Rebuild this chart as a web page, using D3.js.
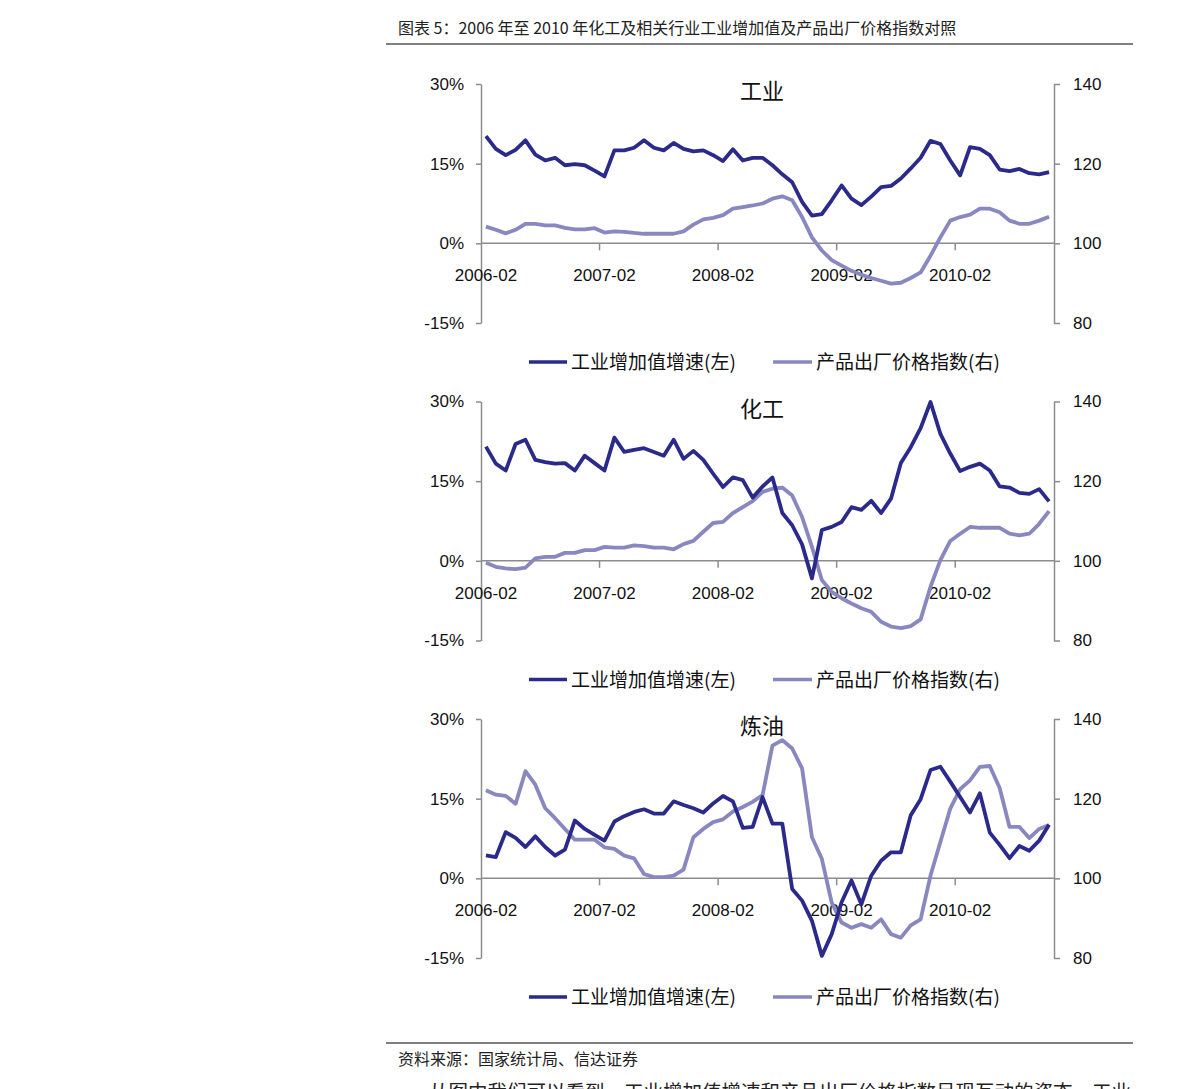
<!DOCTYPE html>
<html>
<head>
<meta charset="utf-8">
<script src="https://cdn.jsdelivr.net/npm/d3@7"></script>
<style>
  html, body { margin: 0; padding: 0; background: #fff; }
  svg { display: block; }
</style>
</head>
<body>
<svg id="chart" width="1191" height="1089"></svg>
<script>
// categories: monthly, 2006-02 .. 2010-11
const months = d3.timeMonth.range(new Date(2006, 1, 1), new Date(2010, 11, 1)).map(d3.timeFormat('%Y-%m'));
const tickMonths = ['2006-02', '2007-02', '2008-02', '2009-02', '2010-02'];
const leftTicks = [-15, 0, 15, 30];
const rightTicks = [80, 100, 120, 140];

const panelNames = ['工业', '化工', '炼油'];
const seriesNames = ['工业增加值增速(左)', '产品出厂价格指数(右)'];

// 工业
const gyGrowth = [20.2, 17.8, 16.6, 17.6, 19.4, 16.7, 15.6, 16.1, 14.7, 14.9, 14.7, 13.7, 12.6, 17.5, 17.5, 18.0,
  19.4, 18.0, 17.5, 18.9, 17.8, 17.3, 17.5, 16.6, 15.5, 17.7, 15.6, 16.1, 16.1, 14.7, 13.0, 11.5, 7.8, 5.2, 5.5, 8.1,
  10.9, 8.4, 7.2, 8.8, 10.6, 10.8, 12.2, 14.1, 16.1, 19.3, 18.7, 15.6, 12.8, 18.1, 17.8, 16.6, 13.9, 13.6, 14.0, 13.2, 13.0, 13.4];
const gyPrice = [104.2, 103.4, 102.5, 103.4, 104.9, 104.9, 104.5, 104.5, 103.9, 103.5, 103.5, 103.8, 102.7, 103.0, 102.9, 102.6,
  102.4, 102.4, 102.4, 102.4, 103.0, 104.7, 106.0, 106.4, 107.1, 108.7, 109.1, 109.5, 110.0, 111.2, 111.8, 110.8, 106.6, 101.5, 98.2, 95.8,
  94.4, 93.1, 92.1, 91.3, 90.6, 89.9, 90.1, 91.3, 92.7, 96.9, 101.5, 105.7, 106.6, 107.2, 108.7, 108.7, 107.8, 105.7, 104.9, 104.9, 105.7, 106.7];

// 化工
const hgGrowth = [21.5, 18.3, 17.0, 22.0, 22.8, 19.0, 18.6, 18.3, 18.4, 17.0, 19.8, 18.4, 17.0, 23.2, 20.5, 20.9,
  21.2, 20.5, 19.8, 22.8, 19.2, 20.7, 19.0, 16.4, 13.9, 15.7, 15.2, 11.9, 14.0, 15.7, 9.0, 6.7, 3.1, -3.3, 5.8, 6.4,
  7.3, 10.1, 9.6, 11.3, 9.0, 11.7, 18.4, 21.4, 25.0, 29.9, 23.9, 20.2, 16.9, 17.7, 18.3, 17.0, 14.0, 13.8, 12.8, 12.6, 13.5, 11.2];
const hgPrice = [99.5, 98.5, 98.1, 97.9, 98.3, 100.6, 101.0, 101.0, 102.0, 102.0, 102.7, 102.7, 103.5, 103.3, 103.3, 103.9,
  103.7, 103.3, 103.3, 102.9, 104.2, 105.0, 107.3, 109.5, 109.8, 112.0, 113.5, 115.0, 117.3, 118.1, 118.4, 116.4, 111.0, 103.5, 95.2, 92.2,
  90.6, 89.3, 88.1, 87.2, 84.7, 83.5, 83.1, 83.6, 85.3, 93.5, 100.2, 105.0, 106.8, 108.5, 108.3, 108.3, 108.3, 106.8, 106.4, 106.8, 109.3, 112.5];

// 炼油
const lyGrowth = [4.3, 4.0, 8.7, 7.6, 5.9, 7.9, 5.9, 4.3, 5.4, 10.9, 9.3, 8.2, 7.1, 10.7, 11.7, 12.5,
  13.0, 12.2, 12.2, 14.5, 13.8, 13.2, 12.4, 14.1, 15.5, 14.5, 9.5, 9.7, 15.3, 10.3, 10.3, -2.0, -4.2, -8.0, -14.6, -10.5,
  -4.5, -0.4, -4.9, 0.5, 3.3, 4.9, 4.9, 11.9, 14.9, 20.4, 21.0, 18.2, 15.3, 12.4, 16.0, 8.6, 6.3, 3.8, 6.1, 5.2, 7.1, 10.1];
const lyPrice = [122.1, 121.0, 120.7, 118.7, 126.9, 123.5, 117.6, 115.1, 112.4, 109.7, 109.7, 109.7, 107.8, 107.4, 105.7, 105.0,
  101.1, 100.3, 100.3, 100.7, 102.2, 110.3, 112.4, 114.1, 114.8, 116.8, 117.9, 119.2, 120.9, 133.3, 134.7, 132.6, 127.6, 110.3, 104.9, 93.9,
  88.9, 87.6, 88.5, 87.6, 89.7, 86.0, 85.1, 88.2, 89.7, 100.7, 109.1, 117.5, 122.4, 124.6, 128.0, 128.2, 122.7, 112.9, 112.9, 110.1, 112.4, 113.4];

const panels = [
  { name: panelNames[0], growth: gyGrowth, price: gyPrice },
  { name: panelNames[1], growth: hgGrowth, price: hgPrice },
  { name: panelNames[2], growth: lyGrowth, price: lyPrice }
];

const darkColor = '#2b2a8a';
const lightColor = '#8987bf';
const axisColor = '#8c8c8c';
const cjk = '"Noto Sans CJK SC", "Noto Sans", sans-serif';
const num = '"Liberation Sans", Arial, sans-serif';

const svg = d3.select('#chart');

// header
svg.append('text')
  .attr('x', 398).attr('y', 34)
  .style('font-family', cjk).style('font-size', '16px').attr('fill', '#222')
  .text('图表 5：2006 年至 2010 年化工及相关行业工业增加值及产品出厂价格指数对照');
svg.append('line').attr('x1', 386).attr('x2', 1133).attr('y1', 44).attr('y2', 44)
  .attr('stroke', '#555').attr('stroke-width', 1.5);

// footer
svg.append('line').attr('x1', 386).attr('x2', 1133).attr('y1', 1043).attr('y2', 1043)
  .attr('stroke', '#555').attr('stroke-width', 1.5);
svg.append('text')
  .attr('x', 398).attr('y', 1065)
  .style('font-family', cjk).style('font-size', '16px').attr('fill', '#222')
  .text('资料来源：国家统计局、信达证券');
svg.append('text')
  .attr('x', 429).attr('y', 1099)
  .style('font-family', cjk).style('font-size', '19.5px').attr('fill', '#222')
  .text('从图中我们可以看到，工业增加值增速和产品出厂价格指数呈现互动的姿态，工业');

const x = d3.scaleBand().domain(months).range([481, 1054]).paddingInner(0).paddingOuter(0);
const cx = d => x(d) + x.bandwidth() / 2;

const panelHeight = 239;
const panelStep = 317.5;

panels.forEach((p, k) => {
  const top = 84 + k * panelStep;
  const yL = d3.scaleLinear().domain([-15, 30]).range([top + panelHeight, top]);
  const yR = d3.scaleLinear().domain([80, 140]).range([top + panelHeight, top]);
  const g = svg.append('g');

  // left axis
  const la = g.append('g').attr('transform', 'translate(481,0)')
    .call(d3.axisLeft(yL).tickValues(leftTicks).tickSize(5).tickSizeOuter(0).tickPadding(12).tickFormat(d => d + '%'));
  // right axis
  const ra = g.append('g').attr('transform', 'translate(1054,0)')
    .call(d3.axisRight(yR).tickValues(rightTicks).tickSize(6).tickSizeOuter(0).tickPadding(13));
  [la, ra].forEach(a => {
    a.select('.domain').attr('stroke', axisColor).attr('stroke-width', 1.5);
    a.selectAll('.tick line').attr('stroke', axisColor).attr('stroke-width', 1.5);
    a.selectAll('.tick text').attr('fill', '#111').style('font-family', num).style('font-size', '17px');
  });

  // category axis on the zero line
  const y0 = yL(0);
  g.append('line').attr('x1', 481).attr('x2', 1054).attr('y1', y0).attr('y2', y0)
    .attr('stroke', axisColor).attr('stroke-width', 1.5);
  g.selectAll('.cat-tick').data(tickMonths.slice(1)).enter().append('line')
    .attr('x1', d => x(d)).attr('x2', d => x(d))
    .attr('y1', y0).attr('y2', y0 + 7)
    .attr('stroke', axisColor).attr('stroke-width', 1.5);
  g.selectAll('.cat-label').data(tickMonths).enter().append('text')
    .attr('x', d => cx(d)).attr('y', y0 + 38)
    .attr('text-anchor', 'middle')
    .style('font-family', num).style('font-size', '17px').attr('fill', '#111')
    .text(d => d);

  // panel title
  g.append('text')
    .attr('x', 762).attr('y', top + 15)
    .attr('text-anchor', 'middle')
    .style('font-family', cjk).style('font-size', '22px').attr('fill', '#111')
    .text(p.name);

  const lineL = d3.line().x((d, i) => cx(months[i])).y(d => yL(d));
  const lineR = d3.line().x((d, i) => cx(months[i])).y(d => yR(d));

  g.append('path').datum(p.price).attr('d', lineR)
    .attr('fill', 'none').attr('stroke', lightColor).attr('stroke-width', 3.8)
    .attr('stroke-linejoin', 'round');
  g.append('path').datum(p.growth).attr('d', lineL)
    .attr('fill', 'none').attr('stroke', darkColor).attr('stroke-width', 3.8)
    .attr('stroke-linejoin', 'round');

  // legend
  const ly = top + 278;
  const legend = [
    { x1: 529, x2: 567, tx: 571, color: darkColor, label: seriesNames[0] },
    { x1: 773, x2: 812, tx: 816, color: lightColor, label: seriesNames[1] }
  ];
  legend.forEach(l => {
    g.append('line').attr('x1', l.x1).attr('x2', l.x2).attr('y1', ly).attr('y2', ly)
      .attr('stroke', l.color).attr('stroke-width', 3.5);
    g.append('text').attr('x', l.tx).attr('y', ly + 7)
      .style('font-family', cjk).style('font-size', '19px').attr('fill', '#111')
      .text(l.label);
  });
});
</script>
</body>
</html>
